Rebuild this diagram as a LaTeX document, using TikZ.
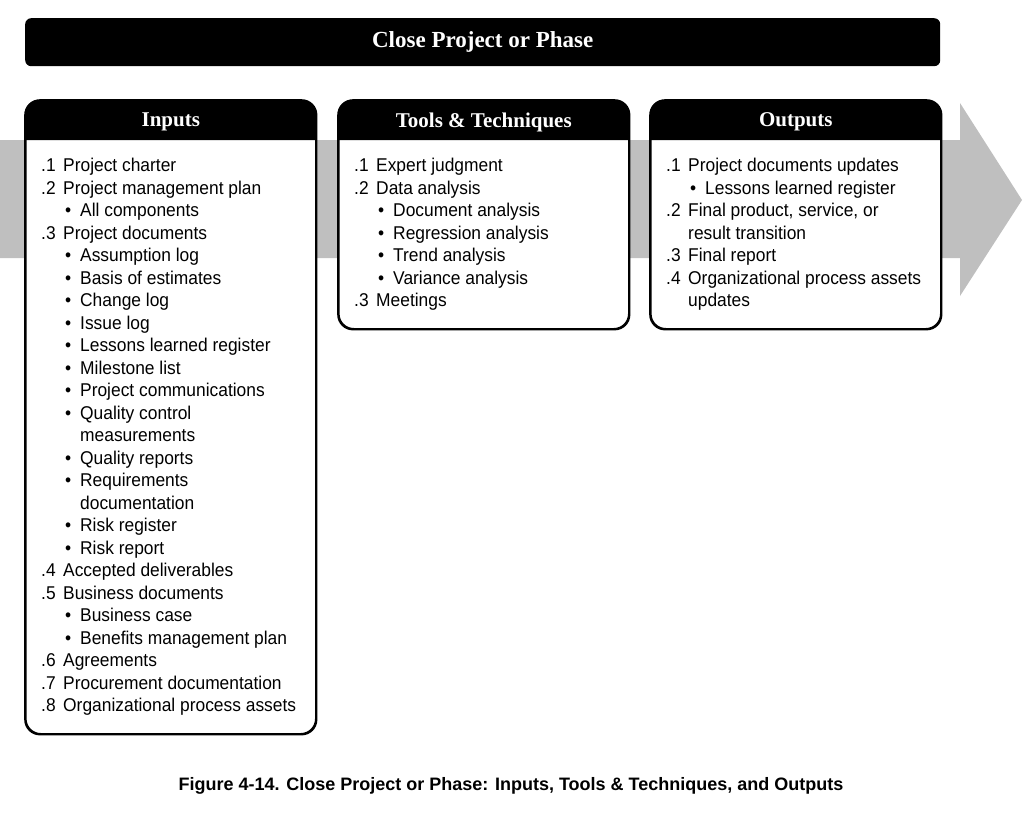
\documentclass[tikz,border=0pt]{standalone}
\usepackage{fontspec}
\setmainfont{Liberation Sans}
\newfontfamily\narrowfont[FakeStretch=0.94]{Liberation Sans}
\newfontfamily\headfont{Liberation Serif}
\definecolor{arrowGray}{rgb}{0.75, 0.75, 0.75}
\usetikzlibrary{positioning}

\newcommand{\itemnum}[2]{\makebox[22pt][l]{#1}#2}
\newcommand{\bul}[1]{\hspace{24pt}\makebox[15pt][l]{\textbullet}#1}
\newcommand{\cnt}[1]{\hspace{39pt}#1}
\newcommand{\cnum}[1]{\hspace{22pt}#1}

\tikzset{
  panel/.style={draw=black, line width=1.6pt, rounded corners=15pt, fill=white, anchor=north west, inner sep=0pt},
  headbar/.style={font=\headfont\bfseries\fontsize{21}{21}\selectfont, text=white},
  listtext/.style={anchor=north west, inner sep=0pt, align=left,
    font=\narrowfont\fontsize{18.5}{22.5}\selectfont}
}

\begin{document}
\begin{tikzpicture}[x=1pt,y=-1pt]
  \useasboundingbox (0,0) rectangle (1024,819);
  % arrow behind the panels
  \fill[arrowGray] (0,140) -- (960,140) -- (960,103) -- (1022,200) -- (960,296) -- (960,258) -- (0,258) -- cycle;

  % title bar
  \node[fill=black, rounded corners=6pt, minimum width=915pt, minimum height=48pt, anchor=north west, inner sep=0pt,
        headbar, font=\headfont\bfseries\fontsize{23}{23}\selectfont] (title) at (25,18) {Close Project or Phase};

  % panels
  \node[panel, minimum width=290pt, minimum height=633pt] (inputs) at (25,100) {};
  \node[panel, minimum width=290pt, minimum height=228pt] (tools) at (338,100) {};
  \node[panel, minimum width=290pt, minimum height=228pt] (outputs) at (650,100) {};

  % black headers
  \foreach \p/\t in {inputs/Inputs, tools/Tools \& Techniques, outputs/Outputs}{
    \fill[black] ([yshift=-40pt]\p.north west) [rounded corners=14pt] -- (\p.north west) -- (\p.north east) [sharp corners] -- ([yshift=-40pt]\p.north east) -- cycle;
    \draw[line width=1.6pt, rounded corners=15pt] (\p.north west) rectangle (\p.south east);
    \node[headbar] (\p-head) at ([yshift=-22pt]\p.north) {\t};
  }

  \node[listtext] (inputs-list) at (41,158) {%
    \itemnum{.1}{Project charter}\\
    \itemnum{.2}{Project management plan}\\
    \bul{All components}\\
    \itemnum{.3}{Project documents}\\
    \bul{Assumption log}\\
    \bul{Basis of estimates}\\
    \bul{Change log}\\
    \bul{Issue log}\\
    \bul{Lessons learned register}\\
    \bul{Milestone list}\\
    \bul{Project communications}\\
    \bul{Quality control}\\
    \cnt{measurements}\\
    \bul{Quality reports}\\
    \bul{Requirements}\\
    \cnt{documentation}\\
    \bul{Risk register}\\
    \bul{Risk report}\\
    \itemnum{.4}{Accepted deliverables}\\
    \itemnum{.5}{Business documents}\\
    \bul{Business case}\\
    \bul{Benefits management plan}\\
    \itemnum{.6}{Agreements}\\
    \itemnum{.7}{Procurement documentation}\\
    \itemnum{.8}{Organizational process assets}};

  \node[listtext] (tools-list) at (354,158) {%
    \itemnum{.1}{Expert judgment}\\
    \itemnum{.2}{Data analysis}\\
    \bul{Document analysis}\\
    \bul{Regression analysis}\\
    \bul{Trend analysis}\\
    \bul{Variance analysis}\\
    \itemnum{.3}{Meetings}};

  \node[listtext] (outputs-list) at (666,158) {%
    \itemnum{.1}{Project documents updates}\\
    \bul{Lessons learned register}\\
    \itemnum{.2}{Final product, service, or}\\
    \cnum{result transition}\\
    \itemnum{.3}{Final report}\\
    \itemnum{.4}{Organizational process assets}\\
    \cnum{updates}};

  % caption
  \node[font=\bfseries\fontsize{18}{18}\selectfont] (caption) at (511,786)
    {Figure 4-14. Close Project or Phase: Inputs, Tools \& Techniques, and Outputs};
\end{tikzpicture}
\end{document}
